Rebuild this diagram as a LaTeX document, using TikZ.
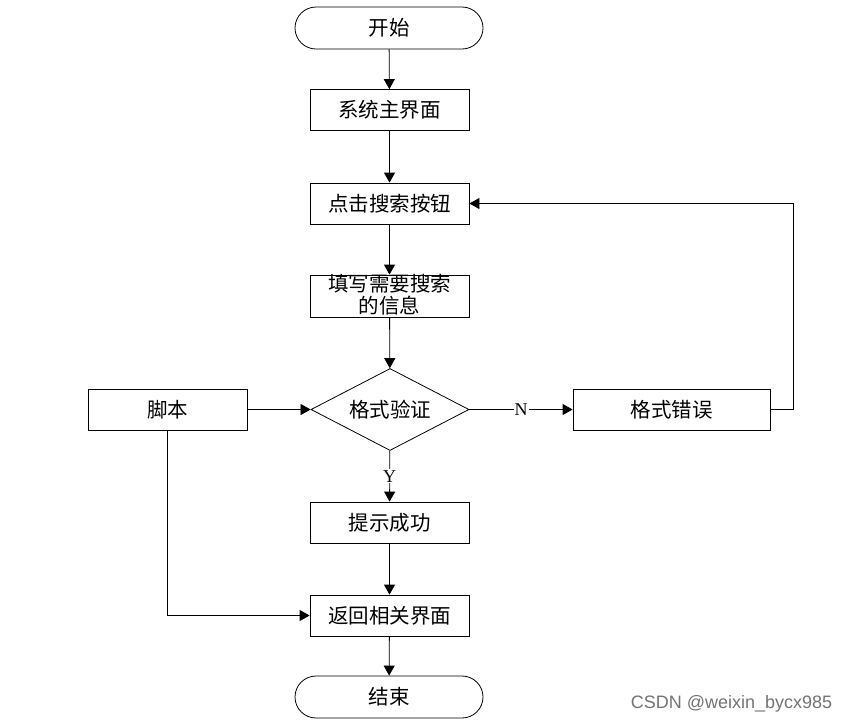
\documentclass[tikz,border=0pt]{standalone}
\usepackage{fontspec}
\newfontfamily\cjk{Noto Sans CJK SC}
\newfontfamily\lat{Liberation Serif}
\newfontfamily\wm{Liberation Sans}
\usetikzlibrary{arrows.meta,shapes.geometric}
\begin{document}
\begin{tikzpicture}[x=1pt,y=-1pt,
  every node/.style={font=\cjk\fontsize{20.5}{23}\selectfont, inner sep=0pt},
  box/.style={draw, line width=0.8pt, minimum width=159pt, minimum height=41pt},
  term/.style={draw, line width=0.8pt, rounded corners=21pt, minimum width=188pt, minimum height=42pt},
  dec/.style={draw, line width=0.8pt, diamond, aspect=1.93, minimum width=158pt, minimum height=82pt},
  arr/.style={draw, line width=0.8pt, -{Triangle[length=10pt,width=11pt]}},
  lbl/.style={font=\lat\fontsize{18}{20}\selectfont, fill=white, inner sep=1pt}]
\useasboundingbox (0,0) rectangle (852,724);
\node[term] (start) at (389,28) {开始};
\node[box] (main) at (389.5,110) {系统主界面};
\node[box] (click) at (389.5,203.5) {点击搜索按钮};
\node[box, minimum height=42pt] (fill) at (389.5,296) {};
\node[align=center] (filltext) at (389.5,295) {填写需要搜索\\[-1pt]的信息};
\node[dec] (check) at (390,409.5) {格式验证};
\node[box] (script) at (167.5,409.5) {脚本};
\node[box, minimum width=197pt] (err) at (671.5,409.5) {格式错误};
\node[box] (ok) at (389.5,522.5) {提示成功};
\node[box] (ret) at (389.5,615.5) {返回相关界面};
\node[term] (end) at (389,697) {结束};
\node[font=\wm\fontsize{18}{20}\selectfont, text=black!55] (wmk) at (731.5,704) {CSDN @weixin\_bycx985};
\draw[arr] (start) -- (main);
\draw[arr] (main) -- (click);
\draw[arr] (click) -- (fill);
\draw[arr] (fill) -- (check);
\draw[arr] (script) -- (check);
\draw[arr] (check) -- node[lbl, pos=0.5] {N} (err);
\draw[arr] (err.east) -- ++(23,0) |- (click.east);
\draw[arr] (check) -- node[lbl, pos=0.5] {Y} (ok);
\draw[arr] (ok) -- (ret);
\draw[arr] (script.south) |- (ret.west);
\draw[arr] (ret) -- (end);
\end{tikzpicture}
\end{document}
